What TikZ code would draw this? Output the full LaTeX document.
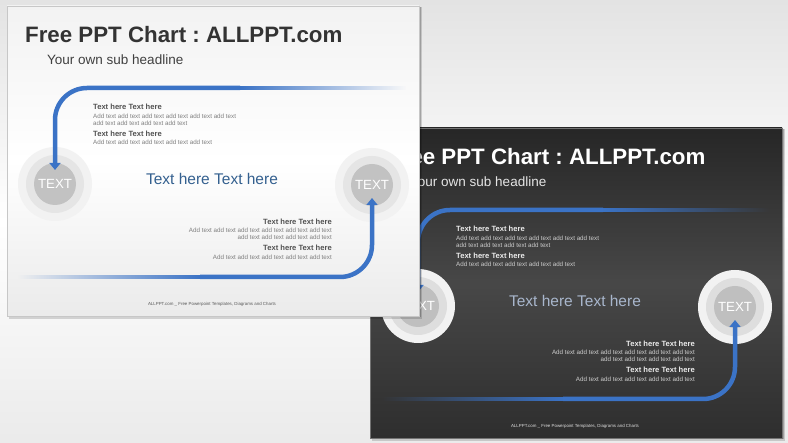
\documentclass[tikz,border=0pt]{standalone}
\usepackage{fontspec}
\setmainfont{Liberation Sans}
\usetikzlibrary{arrows.meta,fadings}
\tikzfading[name=fadeout, left color=transparent!0, right color=transparent!100]
\tikzfading[name=fadein, left color=transparent!100, right color=transparent!0]
\definecolor{flowblue}{HTML}{3B73C6}

\newcommand\drawslide[1]{%
  \fill[black, opacity=.15] (8.5,7.5) rectangle (421.5,319);
  \fill[black, opacity=.2] (8,7) rectangle (420.5,317.5);
  \shade[top color=sbgtop, bottom color=sbgbot, middle color=sbgmid] (7,6) rectangle (419,316);
  \draw[sborder, line width=.6pt] (7,6) rectangle (419,316);
  \node[txt, font=\bfseries\fontsize{22.3}{26}\selectfont, text=stitle] (#1-title) at (25,43) {Free PPT Chart : ALLPPT.com};
  \node[txt, font=\fontsize{13.5}{16}\selectfont, text=ssub] (#1-sub) at (47,64.5) {Your own sub headline};
  % circles
  \node[ring, minimum size=74pt, fill=ringA] (#1-lc) at (55,184) {};
  \node[ring, minimum size=58pt, fill=ringB] (#1-lcm) at (#1-lc) {};
  \node[ring, minimum size=42pt, fill=ringC, ctext] (#1-lci) at (#1-lc) {TEXT};
  \node[ring, minimum size=74pt, fill=ringA] (#1-rc) at (372,185) {};
  \node[ring, minimum size=58pt, fill=ringB] (#1-rcm) at (#1-rc) {};
  \node[ring, minimum size=42pt, fill=ringC, ctext] (#1-rci) at (#1-rc) {TEXT};
  % flows
  \coordinate (#1-ts) at (240,88);
  \coordinate (#1-bs) at (200,277);
  \fill[flowblue, path fading=fadeout] (240,85.75) rectangle (406,90.25);
  \fill[flowblue, path fading=fadein] (18,274.75) rectangle (200,279.25);
  \draw[flow] (#1-ts) -- (#1-ts -| #1-lc) -- ([yshift=14pt]#1-lc.center);
  \draw[flow] (#1-bs) -- (#1-bs -| #1-rc) -- ([yshift=-13pt]#1-rc.center);
  % texts
  \node[txt, anchor=base, font=\fontsize{15.5}{18}\selectfont, text=scenter] (#1-center) at (212,185) {Text here Text here};
  \node[hdr] (#1-h1) at (93,110) {Text here Text here};
  \node[bdy] (#1-b1) at (93,118.5) {Add text add text add text add text add text add text};
  \node[bdy] (#1-b2) at (93,126) {add text add text add text add text};
  \node[hdr] (#1-h2) at (93,137) {Text here Text here};
  \node[bdy] (#1-b3) at (93,145) {Add text add text add text add text add text};
  \node[hdr, anchor=base east] (#1-h3) at (332,224.5) {Text here Text here};
  \node[bdy, anchor=base east] (#1-b4) at (332,232.5) {Add text add text add text add text add text add text};
  \node[bdy, anchor=base east] (#1-b5) at (332,240) {add text add text add text add text};
  \node[hdr, anchor=base east] (#1-h4) at (332,250.5) {Text here Text here};
  \node[bdy, anchor=base east] (#1-b6) at (332,259.5) {Add text add text add text add text add text};
  \node[txt, anchor=base, font=\fontsize{4.4}{5}\selectfont, text=sfoot] (#1-foot) at (212,306) {ALLPPT.com \_ Free Powerpoint Templates, Diagrams and Charts};
}

\begin{document}
\frenchspacing
\begin{tikzpicture}[x=1pt, y=-1pt,
  txt/.style={anchor=base west, inner sep=0pt},
  hdr/.style={txt, font=\bfseries\fontsize{7.6}{9}\selectfont, text=shead},
  bdy/.style={txt, font=\fontsize{6.25}{8}\selectfont, text=sbody},
  ring/.style={circle, inner sep=0pt, draw=none},
  ctext/.style={text=white, font=\fontsize{13.3}{15}\selectfont},
  flow/.style={draw=flowblue, line width=4.5pt, rounded corners=32pt,
    -{Triangle[width=11pt,length=7pt]}}]
\useasboundingbox (0,0) rectangle (788,443);
\shade[top color=black!11, bottom color=black!8, middle color=white] (0,0) rectangle (788,443);

% dark slide
\colorlet{sbgtop}{black!85}
\colorlet{sbgmid}{black!72}
\colorlet{sbgbot}{black!82}
\colorlet{sborder}{black!55}
\colorlet{stitle}{white}
\colorlet{ssub}{black!10}
\colorlet{shead}{black!8}
\colorlet{sbody}{black!20}
\colorlet{sfoot}{black!12}
\definecolor{scenter}{HTML}{A8B6CC}
\colorlet{ringA}{black!5}
\colorlet{ringB}{black!13}
\colorlet{ringC}{black!25}
\begin{scope}[xshift=363pt, yshift=-122pt]
\drawslide{D}
\end{scope}

% light slide
\colorlet{sbgtop}{black!5}
\colorlet{sbgmid}{white}
\colorlet{sbgbot}{black!8}
\colorlet{sborder}{black!22}
\colorlet{stitle}{black!80}
\colorlet{ssub}{black!75}
\colorlet{shead}{black!68}
\colorlet{sbody}{black!50}
\colorlet{sfoot}{black!65}
\definecolor{scenter}{HTML}{34608F}
\colorlet{ringA}{black!5}
\colorlet{ringB}{black!10}
\colorlet{ringC}{black!24}
\drawslide{L}
\end{tikzpicture}
\end{document}
